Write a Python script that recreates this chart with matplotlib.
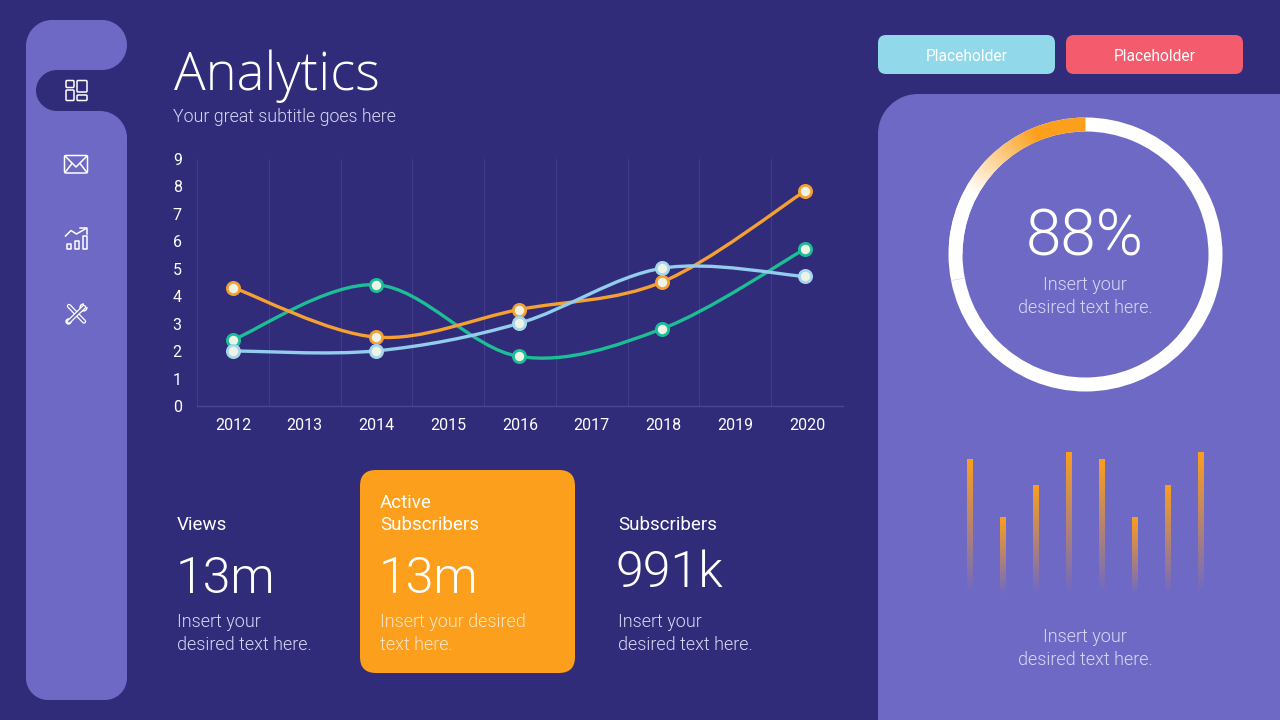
import numpy as np
import matplotlib
matplotlib.use('Agg')
import matplotlib.pyplot as plt
from matplotlib.path import Path
from matplotlib.patches import PathPatch, FancyBboxPatch, Wedge, Rectangle, Circle
from matplotlib.colors import to_rgb

plt.rcParams['font.family'] = ['Roboto', 'Open Sans', 'DejaVu Sans']

# ─── Data

years = [2012, 2013, 2014, 2015, 2016, 2017, 2018, 2019, 2020]
point_years = [2012, 2014, 2016, 2018, 2020]
green_values = [2.4, 4.4, 1.8, 2.8, 5.7]
orange_values = [4.3, 2.5, 3.5, 4.5, 7.8]
blue_values = [2.0, 2.0, 3.0, 5.0, 4.7]
y_ticks = [0, 1, 2, 3, 4, 5, 6, 7, 8, 9]

small_bar_pos = [1, 2, 3, 4, 5, 6, 7, 8]
small_bar_values = [136, 78, 110, 143, 136, 78, 110, 143]

ring_label = '88%'
stat_titles = ['Views', 'Active\nSubscribers', 'Subscribers']
stat_values = ['13m', '13m', '991k']
stat_notes = ['Insert your\ndesired text here.', 'Insert your desired\ntext here.', 'Insert your\ndesired text here.']

# ─── Colours

BG = '#312C7A'
PANEL = '#6E69C5'
ORANGE = '#FC9F1C'
SOFT = '#DAD8F6'
GRID = '#413C89'

W, H = 1280, 720
fig = plt.figure(figsize=(12.8, 7.2), dpi=100, facecolor=BG)

# page axes in pixel coordinates
page = fig.add_axes([0, 0, 1, 1])
page.set_xlim(0, W)
page.set_ylim(H, 0)
page.axis('off')


def label(x, y, s, size, color='white', weight=300, ha='left', family=None):
    t = page.text(x, y, s, fontsize=size, color=color, fontweight=weight, ha=ha, va='baseline')
    if family:
        t.set_fontfamily(family)
    return t


def two_lines(x, y, s, size, color, ha='left', gap=23):
    for i, line in enumerate(s.split('\n')):
        label(x, y + i*gap, line, size, color=color, ha=ha)


def rounded(x0, y0, x1, y1, r, color):
    page.add_patch(FancyBboxPatch((x0 + r, y0 + r), x1 - x0 - 2*r, y1 - y0 - 2*r,
                                  boxstyle=f'round,pad={r},rounding_size={r}',
                                  fc=color, ec='none'))


def outline(start, steps):
    # steps are points to run straight to, or (corner, end) pairs for a round corner
    k = 0.5523
    verts, codes = [start], [Path.MOVETO]
    for step in steps:
        if len(step) == 2 and np.ndim(step[0]) == 1:
            corner, end = np.array(step[0], float), np.array(step[1], float)
            prev = np.array(verts[-1], float)
            verts += [prev + k*(corner - prev), end + k*(corner - end), end]
            codes += [Path.CURVE4]*3
        else:
            verts.append(step)
            codes.append(Path.LINETO)
    return Path(verts, codes)


# ─── Sidebar

side = outline((52, 20), [(102, 20), ((127, 20), (127, 45)), ((127, 70), (102, 70)),
                          (57, 70), ((36, 70), (36, 90.5)), ((36, 111), (57, 111)),
                          (100, 111), ((127, 111), (127, 138)),
                          (127, 678), ((127, 700), (105, 700)),
                          (48, 700), ((26, 700), (26, 678)),
                          (26, 46), ((26, 20), (52, 20))])
page.add_patch(PathPatch(side, fc=PANEL, ec='none'))

icon = dict(fc='none', ec='white', lw=1.1, joinstyle='round')
for x0, y0, x1, y1 in [(66, 80.5, 74, 87.5), (66, 90, 74, 100.5), (77, 80.5, 87, 92), (77, 95, 87, 100.5)]:
    page.add_patch(FancyBboxPatch((x0, y0), x1 - x0, y1 - y0, boxstyle='round,pad=0,rounding_size=1', **icon))

page.add_patch(FancyBboxPatch((64.5, 155.5), 23, 17.5, boxstyle='round,pad=0,rounding_size=1.5', **icon))
page.plot([65, 76, 87], [156, 167, 156], color='white', lw=1.1)
page.plot([65, 72], [172.5, 163.5], color='white', lw=1.1)
page.plot([87, 80], [172.5, 163.5], color='white', lw=1.1)

for x0, y0, x1 in [(66.5, 243.5, 70.5), (74.5, 240.5, 78.5), (83, 235.5, 86.5)]:
    page.add_patch(Rectangle((x0, y0), x1 - x0, 248.5 - y0, **icon))
page.plot([65.5, 71, 76.5, 86], [236, 230.5, 234, 228.5], color='white', lw=1.1)
page.plot([80, 86.5, 86.5], [228, 228, 234], color='white', lw=1.1)

for ends in [([69, 84], [306, 321.5]), ([84, 69], [307, 321.5])]:
    page.plot(*ends, color='white', lw=3.2, solid_capstyle='round')
    page.plot(*ends, color=PANEL, lw=1.4, solid_capstyle='round')
page.add_patch(Circle((83.5, 307.5), 3.4, fc=PANEL, ec='white', lw=1.1))
page.add_patch(Rectangle((84, 303), 4, 4, fc=PANEL, ec='none'))
page.add_patch(Circle((68.5, 321.5), 2.4, fc=PANEL, ec='white', lw=1.1))

# ─── Header

label(174, 90, 'Analytics', 38, family=['Open Sans', 'DejaVu Sans'])
label(173, 122, 'Your great subtitle goes here', 12.8, color=SOFT)

# ─── Line chart

ax = fig.add_axes([197/W, 1 - 406/H, (843 - 197)/W, (406 - 159)/H])
ax.patch.set_alpha(0)
ax.set_xlim(2011.5, 2020.5)
ax.set_ylim(0, 9)
for s in ['top', 'left', 'right']:
    ax.spines[s].set_visible(False)
ax.spines['bottom'].set_color('#4A4596')
ax.spines['bottom'].set_linewidth(1)
ax.set_xticks(years)
ax.set_xticklabels([str(y) for y in years])
ax.set_yticks(y_ticks)
ax.tick_params(axis='both', length=0, colors='white', labelsize=11.5)
ax.tick_params(axis='x', pad=9)
ax.tick_params(axis='y', pad=11)
for yr in [years[0] - 0.5] + [y + 0.5 for y in years[:-1]] + [years[-1] + 0.5]:
    ax.axvline(yr, color=GRID, lw=0.8, zorder=0)

# the series sit on their own axes: their x scale is a touch tighter than the slots
lines_ax = fig.add_axes([197/W, 1 - 406/H, (843 - 197)/W, (406 - 158)/H])
lines_ax.patch.set_alpha(0)
lines_ax.axis('off')
lines_ax.set_xlim(2011.497, 2020.531)
lines_ax.set_ylim(0, 9)


def smooth_path(xs, ys):
    # cubic segments through the points, the way an office chart smooths a line
    p = np.column_stack([xs, ys])
    verts = [p[0]]
    codes = [Path.MOVETO]
    for i in range(len(p) - 1):
        before = p[max(i - 1, 0)]
        after = p[min(i + 2, len(p) - 1)]
        verts += [p[i] + (p[i + 1] - before)/6, p[i + 1] - (after - p[i])/6, p[i + 1]]
        codes += [Path.CURVE4]*3
    return Path(verts, codes)


for values, color, edge in [(green_values, '#1CBE96', '#1CBE96'),
                            (orange_values, '#F5A033', '#F5A033'),
                            (blue_values, '#93CDEE', '#A5D6EC')]:
    lines_ax.add_patch(PathPatch(smooth_path(point_years, values), fc='none', ec=color, lw=2.4,
                                 capstyle='round', clip_on=False))
    lines_ax.plot(point_years, values, ls='none', marker='o', ms=8.8, mew=2.0, mfc='#EEF3E6', mec=edge,
                  clip_on=False)

# ─── Stat cards

rounded(360, 470, 575, 673, 16, ORANGE)
note_colors = [SOFT, '#FDE6C6', SOFT]
for x, title, value, note, vx, nc in zip([177, 380, 618], stat_titles, stat_values, stat_notes,
                                         [176, 379, 615], note_colors):
    lines = title.split('\n')
    for i, line in enumerate(lines):
        label(x, 530.5 - (len(lines) - 1 - i)*23, line, 13.5, weight=400)
    label(vx, 593 if value == '13m' else 587, value, 36)
    two_lines(x, 627, note, 13, nc)

# ─── Right column

rounded(878, 35, 1055, 74, 8, '#91D8EA')
rounded(1066, 35, 1243, 74, 8, '#F45B6C')
label(966.5, 61, 'Placeholder', 11.2, ha='center', weight=400)
label(1154.5, 61, 'Placeholder', 11.2, ha='center', weight=400)

panel = outline((1280, 94), [(918, 94), ((878, 94), (878, 134)), (878, 720), (1280, 720), (1280, 94)])
page.add_patch(PathPatch(panel, fc=PANEL, ec='none'))

# ring: white with a conic orange fade running back from the top
cx, cy, r_out, r_in = 1085.5, 254.5, 137, 123
page.add_patch(Wedge((cx, cy), r_out, 0, 360, width=r_out - r_in, fc='white', ec='none'))

gx, gy = np.meshgrid(np.arange(cx - r_out, cx + 1), np.arange(cy - r_out, cy + 1))
off_top = np.degrees(np.arctan2(cx - gx, cy - gy))
blend = np.clip((off_top - 22)/(62 - 22), 0, 1)[..., None]
img = (1 - blend)*np.array(to_rgb(ORANGE)) + blend
im = page.imshow(img, extent=(cx - r_out, cx, cy, cy - r_out), aspect='auto', interpolation='bilinear', zorder=2)
clip = Wedge((cx, cy), r_out, 180, 270, width=r_out - r_in, transform=page.transData)
im.set_clip_path(clip)
page.set_xlim(0, W)
page.set_ylim(H, 0)

a = np.radians(191)
page.plot([cx + r_in*np.cos(a), cx + r_out*np.cos(a)], [cy - r_in*np.sin(a), cy - r_out*np.sin(a)],
          color='#DCDBF0', lw=0.5, zorder=3)

label(1085, 256, ring_label, 46, ha='center')
two_lines(1085, 290, 'Insert your\ndesired text here.', 13, SOFT, ha='center')

# small bars, each faded to nothing at the foot
bx = fig.add_axes([953.5/W, 1 - 595/H, 264/W, 145/H])
bx.axis('off')
bars = bx.bar(small_bar_pos, small_bar_values, width=6/33, color='none')
fade = np.ones((64, 1, 4))
fade[..., :3] = to_rgb(ORANGE)
fade[..., 3] = np.linspace(1, 0, 64)[:, None]
for b in bars:
    g = bx.imshow(fade, extent=(b.get_x(), b.get_x() + b.get_width(), 0, b.get_height()), aspect='auto')
    g.set_clip_path(b)
bx.set_xlim(0.5, 8.5)
bx.set_ylim(0, 145)

two_lines(1085, 642, 'Insert your\ndesired text here.', 13, SOFT, ha='center')

fig.savefig('out.png', dpi=100, facecolor=BG)
